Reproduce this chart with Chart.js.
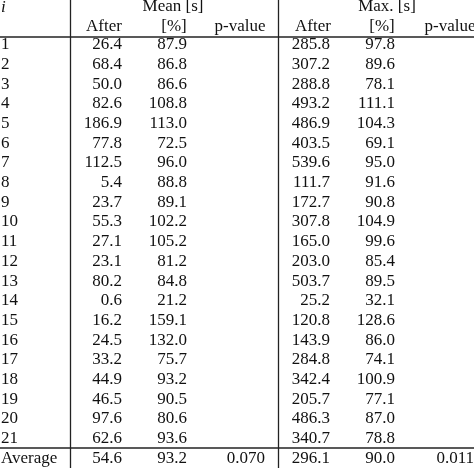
<!DOCTYPE html>
<html>
<head>
<meta charset="utf-8">
<script src="https://cdn.jsdelivr.net/npm/chart.js@4/dist/chart.umd.min.js"></script>
<style>
  body { margin: 0; background: #fff; }
  #wrap { width: 474px; height: 468px; }
</style>
</head>
<body>
<div id="wrap"><canvas id="tbl"></canvas></div>
<script>
// дані таблиці
const rowLabels = ['1','2','3','4','5','6','7','8','9','10','11','12','13','14','15','16','17','18','19','20','21'];
const meanAfter = ['26.4','68.4','50.0','82.6','186.9','77.8','112.5','5.4','23.7','55.3','27.1','23.1','80.2','0.6','16.2','24.5','33.2','44.9','46.5','97.6','62.6'];
const meanPct = ['87.9','86.8','86.6','108.8','113.0','72.5','96.0','88.8','89.1','102.2','105.2','81.2','84.8','21.2','159.1','132.0','75.7','93.2','90.5','80.6','93.6'];
const maxAfter = ['285.8','307.2','288.8','493.2','486.9','403.5','539.6','111.7','172.7','307.8','165.0','203.0','503.7','25.2','120.8','143.9','284.8','342.4','205.7','486.3','340.7'];
const maxPct = ['97.8','89.6','78.1','111.1','104.3','69.1','95.0','91.6','90.8','104.9','99.6','85.4','89.5','32.1','128.6','86.0','74.1','100.9','77.1','87.0','78.8'];
const avgRow = ['Average','54.6','93.2','0.070','296.1','90.0','0.011'];

// колонки: x правого краю
const colRight = [0, 122, 187, 265, 330, 395, 474];

const tablePlugin = {
  id: 'tablePlugin',
  afterDraw(chart) {
    const c = chart.ctx, xs = chart.scales.x, ys = chart.scales.y;
    const X = v => xs.getPixelForValue(v), Y = v => ys.getPixelForValue(v);
    c.save();
    c.fillStyle = '#111';
    c.textBaseline = 'middle';
    c.font = '17px "Liberation Serif", "Times New Roman", serif';

    const txt = (s, x, y, align) => { c.textAlign = align; c.fillText(s, X(x), Y(y)); };

    // заголовок
    c.font = 'italic 17px "Liberation Serif", serif';
    txt('i', 1, 8, 'left');
    c.font = '17px "Liberation Serif", "Times New Roman", serif';
    txt('Mean [s]', 173, 7, 'center');
    txt('Max. [s]', 387, 7, 'center');
    txt('After', 104, 27, 'center');
    txt('[%]', 174, 27, 'center');
    txt('p-value', 240, 27, 'center');
    txt('After', 313, 27, 'center');
    txt('[%]', 382, 27, 'center');
    txt('p-value', 450, 27, 'center');

    rowLabels.forEach((lab, i) => {
      const y = 45 + i * 19.67;
      txt(lab, 1, y, 'left');
      txt(meanAfter[i], colRight[1], y, 'right');
      txt(meanPct[i], colRight[2], y, 'right');
      txt(maxAfter[i], colRight[4], y, 'right');
      txt(maxPct[i], colRight[5], y, 'right');
    });
    txt(avgRow[0], 1, 459, 'left');
    for (let k = 1; k < avgRow.length; k++) txt(avgRow[k], colRight[k], 459, 'right');

    // лінії
    c.strokeStyle = '#222';
    c.lineWidth = 1.3;
    const line = (x1, y1, x2, y2) => { c.beginPath(); c.moveTo(X(x1), Y(y1)); c.lineTo(X(x2), Y(y2)); c.stroke(); };
    line(0, 37, 474, 37);
    line(0, 448, 474, 448);
    line(70.5, 0, 70.5, 468);
    line(278.5, 0, 278.5, 468);
    c.restore();
  }
};

new Chart(document.getElementById('tbl'), {
  type: 'scatter',
  data: { datasets: [{ data: [], pointRadius: 0 }] },
  options: {
    responsive: true,
    maintainAspectRatio: false,
    animation: false,
    layout: { padding: 0 },
    plugins: { legend: { display: false }, tooltip: { enabled: false } },
    scales: {
      x: { type: 'linear', min: 0, max: 474, display: false },
      y: { type: 'linear', min: 0, max: 468, reverse: true, display: false }
    }
  },
  plugins: [tablePlugin]
});
</script>
</body>
</html>
